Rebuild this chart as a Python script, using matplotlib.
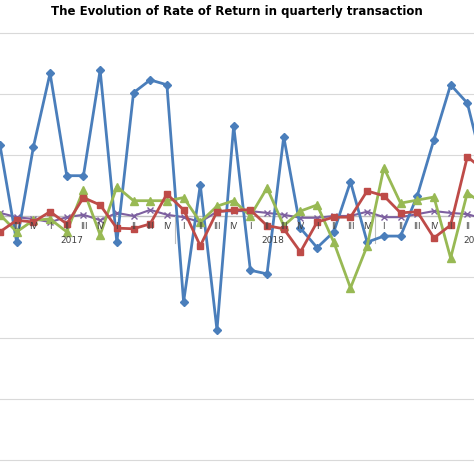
import matplotlib.pyplot as plt

blue = [1.16, -0.43, 1.13, 2.34, 0.66, 0.66, 2.39, -0.43, 2.02, 2.23, 2.15, -1.41, 0.51, -1.87, 1.48,
        -0.89, -0.95, 1.30, -0.2, -0.52, -0.26, 0.56, -0.43, -0.33, -0.33, 0.33, 1.25, 2.15, 1.85, 0.75]
red = [-0.26, -0.07, -0.1, 0.07, -0.13, 0.3, 0.18, -0.2, -0.21, -0.13, 0.36, 0.1, -0.49, 0.07, 0.1,
       0.1, -0.16, -0.21, -0.59, -0.1, -0.02, -0.02, 0.41, 0.33, 0.05, 0.07, -0.36, -0.15, 0.97, 0.75]
green = [0.02, -0.26, -0.07, -0.05, -0.26, 0.43, -0.31, 0.48, 0.25, 0.25, 0.25, 0.3, -0.1, 0.16, 0.25,
         0.0, 0.46, -0.16, 0.08, 0.18, -0.43, -1.18, -0.49, 0.79, 0.21, 0.26, 0.31, -0.69, 0.38, 0.18]
purple = [0.05, -0.02, -0.05, -0.1, -0.02, 0.02, -0.07, 0.05, 0.0, 0.1, 0.02, -0.02, -0.1, 0.07, 0.08,
          0.08, 0.05, 0.02, -0.03, -0.03, 0.0, 0.0, 0.07, -0.02, -0.02, 0.03, 0.08, 0.05, 0.03, -0.05]
quarters = ['', 'III', 'IV', 'I', 'II', 'III', 'IV', 'I', 'II', 'III', 'IV', 'I', 'II', 'III', 'IV',
            'I', 'II', 'III', 'IV', 'I', 'II', 'III', 'IV', 'I', 'II', 'III', 'IV', 'I', 'II', '']
years = ['2017', '2018', '20']
year_pos = [4.3, 16.35, 28.1]
separators = [10.5, 22.45]

fig = plt.figure(figsize=(4.74, 4.74), dpi=100)
ax = fig.add_axes([0, 0, 1, 1])
x = list(range(len(blue)))

for v in range(-4, 4):
    if v != 0:
        ax.axhline(v, color='#d9d9d9', lw=0.8, zorder=0)
ax.axhline(0, color='#bfbfbf', lw=1, zorder=1)

ax.plot(x, blue, '-D', color='#4a7ebb', lw=2, ms=4, zorder=3)
ax.plot(x, red, '-s', color='#be4b48', lw=2, ms=5, zorder=4)
ax.plot(x, green, '-^', color='#98b954', lw=2, ms=6, zorder=3)
ax.plot(x, purple, '-x', color='#7d60a0', lw=1.5, ms=5, zorder=2)

for i, q in enumerate(quarters):
    ax.text(i, -0.1, q, fontsize=6, ha='center', va='top', color='#404040', zorder=5)
for p, yr in zip(year_pos, years):
    ax.text(p, -0.33, yr, fontsize=6.5, ha='center', va='top', color='#404040')
for s in separators:
    ax.plot([s, s], [0, -0.45], color='#bfbfbf', lw=0.8)

ax.set_xlim(0, 28.4)
ax.set_ylim(-4.23, 3.54)
ax.axis('off')
fig.text(0.5, 0.975, 'The Evolution of Rate of Return in quarterly transaction',
         ha='center', va='center', fontsize=8.5, fontweight='bold')
fig.savefig('out.png')
